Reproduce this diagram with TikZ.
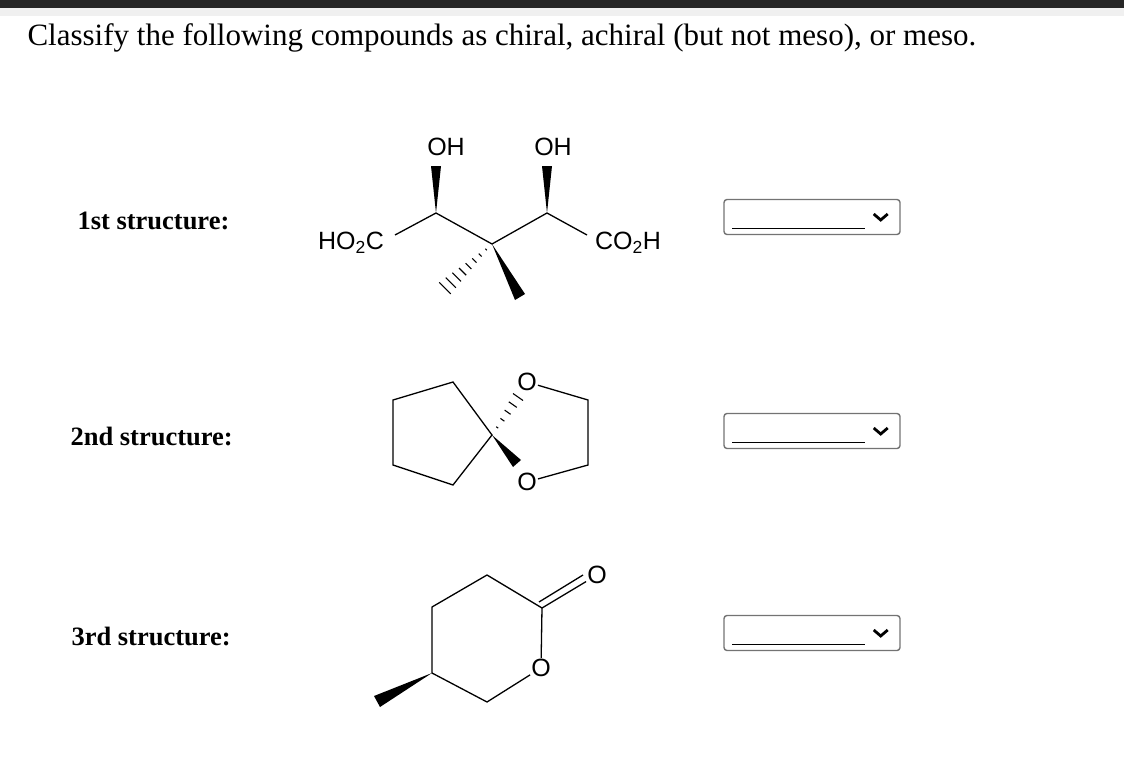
\documentclass[tikz,border=0pt]{standalone}
\usepackage{fontspec}
\usetikzlibrary{calc}
\setmainfont{Liberation Serif}
\newfontfamily\chemf{Liberation Sans}
\begin{document}
\begin{tikzpicture}[x=1pt,y=-1pt,
  bond/.style={line width=1.3pt},
  lbl/.style={font=\bfseries\fontsize{26.5}{30}\selectfont,anchor=west},
  atom/.style={font=\chemf\fontsize{25}{28}\selectfont,inner sep=1pt},
  hashl/.style={line width=1.1pt}]
\useasboundingbox (0,0) rectangle (1124,776);
\fill[black!85] (0,0) rectangle (1124,8);
\fill[black!6] (0,8) rectangle (1124,16);
\node[font=\fontsize{31}{36}\selectfont,anchor=west] (title) at (24,38) {Classify the following compounds as chiral, achiral (but not meso), or meso.};
\node[lbl] (l1) at (74,221) {1st structure:};
\node[lbl] (l2) at (67,436) {2nd structure:};
\node[lbl] (l3) at (68,636) {3rd structure:};
% dropdowns
\foreach \n/\y in {d1/217,d2/431,d3/633}{
  \node[draw=black!55,line width=1.4pt,rounded corners=3pt,minimum width=176pt,minimum height=35pt] (\n) at (812,\y) {};
  \draw[line width=1.3pt] ([xshift=9pt,yshift=7pt]\n.south west) -- ++(133,0);
  \draw[line width=2.8pt] ([xshift=-27pt]\n.east) ++(0,-3) -- ++(7,6) -- ++(7,-6);
}
% structure 1
\coordinate (a1) at (395,235); \coordinate (a2) at (436,213);
\coordinate (a3) at (492,244); \coordinate (a4) at (547,213); \coordinate (a5) at (587,235);
\node[atom] (ho) at (351,243) {HO\textsubscript{2}C};
\node[atom] (co) at (628,243) {CO\textsubscript{2}H};
\node[atom] (oh1) at (446,147) {OH};
\node[atom] (oh2) at (553,147) {OH};
\draw[bond] (a1) -- (a2) -- (a3) -- (a4) -- (a5);
\fill (a2) -- (431,166) -- (441,166) -- cycle;
\fill (a4) -- (542,166) -- (552,166) -- cycle;
\coordinate (m1) at (520,297);
\fill (a3) -- ($(m1)+(-5,3)$) -- ($(m1)+(5,-3)$) -- cycle;
\foreach \t in {0.12,0.24,...,1.0}{
  \draw[hashl] ($(492,244)!\t!(443,290) + (-6*\t,-6*\t)$) -- ($(492,244)!\t!(443,290) + (6*\t,6*\t)$);
}
% structure 2
\coordinate (s) at (492,435); \coordinate (p1) at (453,382); \coordinate (p2) at (393,400);
\coordinate (p3) at (393,465); \coordinate (p4) at (453,485);
\draw[bond] (s) -- (p1) -- (p2) -- (p3) -- (p4) -- cycle;
\node[atom] (o1) at (527,382) {O};
\node[atom] (o2) at (527,482) {O};
\coordinate (r1) at (588,400); \coordinate (r2) at (588,465);
\draw[bond] (o1) -- (r1) -- (r2) -- (o2);
\fill (s) -- (513,467) -- (521,460) -- cycle;
\foreach \t in {0.2,0.4,0.6,0.8,1.0}{
  \draw[hashl] ($(492,435)!\t!(518,397) + (-5*\t,-3.5*\t)$) -- ($(492,435)!\t!(518,397) + (5*\t,3.5*\t)$);
}
% structure 3
\coordinate (c1) at (542,608); \coordinate (c2) at (487,575); \coordinate (c3) at (432,607);
\coordinate (c4) at (432,673); \coordinate (c5) at (487,702);
\node[atom] (or) at (541,668) {O};
\node[atom] (oc) at (597,575) {O};
\coordinate (dbs) at (539,602); \coordinate (dbe) at (583,575);
\draw[bond] (or) -- (c1) -- (c2) -- (c3) -- (c4) -- (c5) -- (or);
\draw[bond] (c1) -- (oc);
\draw[bond] (dbs) -- (dbe);
\fill (c4) -- (374,696) -- (380,707) -- cycle;
\end{tikzpicture}
\end{document}
